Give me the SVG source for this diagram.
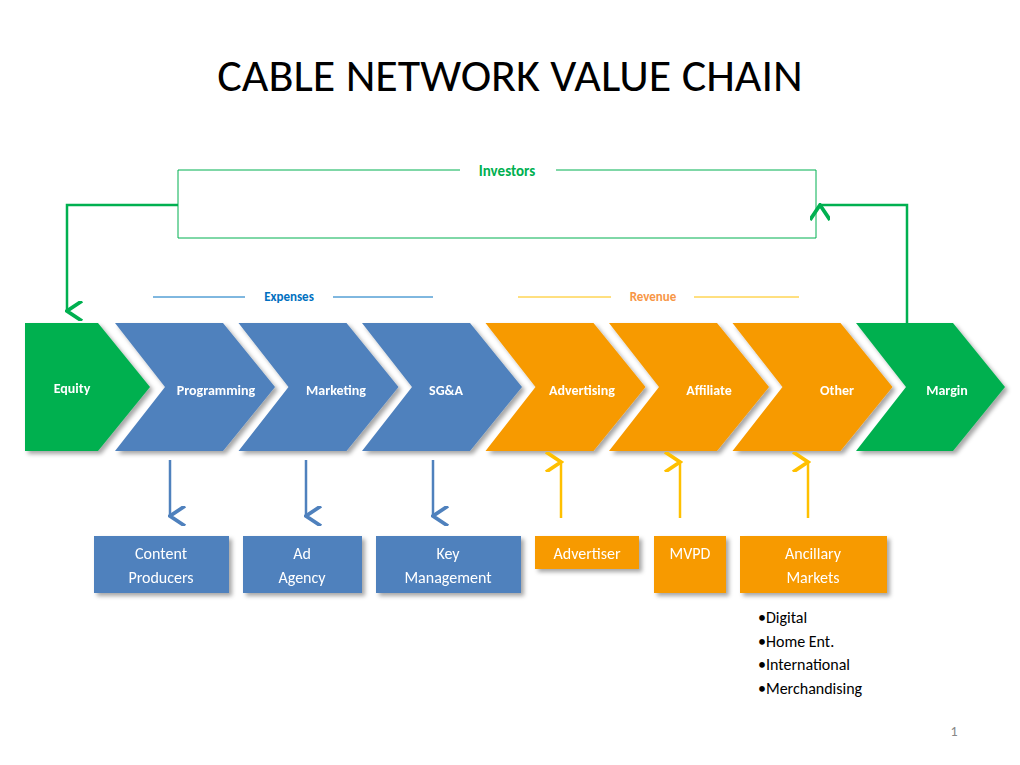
<svg xmlns="http://www.w3.org/2000/svg" width="1020" height="765" viewBox="0 0 1020 765">
<style>
text{font-family:Calibri,Carlito,"Liberation Sans",Arial,sans-serif}
.cl{font-size:14px;font-weight:bold;fill:#fff;text-anchor:middle}
.bx{font-size:16px;fill:#fff;text-anchor:middle}
.bl{fill:#4f81bd}.or{fill:#f79a00}.gr{fill:#00b050}
</style>
<defs>
<filter id="sh" x="-10%" y="-10%" width="130%" height="130%"><feDropShadow dx="3" dy="3" stdDeviation="2" flood-color="#000" flood-opacity="0.35"/></filter>
<marker id="ab" markerWidth="8" markerHeight="8" refX="4" refY="7" orient="auto-start-reverse" viewBox="0 0 8 8"><path d="M0,1 L4,7 L8,1" fill="none" stroke="#4f81bd" stroke-width="1.5"/></marker>
<marker id="ao" markerWidth="8" markerHeight="8" refX="4" refY="7" orient="auto-start-reverse" viewBox="0 0 8 8"><path d="M0,1 L4,7 L8,1" fill="none" stroke="#ffc000" stroke-width="1.5"/></marker>
<marker id="ag" markerWidth="8" markerHeight="8" refX="4" refY="7" orient="auto-start-reverse" viewBox="0 0 8 8"><path d="M0,1 L4,7 L8,1" fill="none" stroke="#00b050" stroke-width="1.5"/></marker>
</defs>
<rect width="1020" height="765" fill="#fff"/>
<text x="510" y="91" font-size="46" text-anchor="middle" fill="#000">CABLE NETWORK VALUE CHAIN</text>
<g id="investors">
<path d="M460,170 H178 V238 H816 V170 H556" fill="none" stroke="#00b050" stroke-width="1"/>
<text x="507" y="176" font-size="15" font-weight="bold" fill="#00b050" text-anchor="middle">Investors</text>
</g>
<g id="expenses"><line x1="153" y1="297" x2="245" y2="297" stroke="#0070c0"/><line x1="333" y1="297" x2="433" y2="297" stroke="#0070c0"/><text x="289" y="301" font-size="13" font-weight="bold" fill="#0070c0" text-anchor="middle">Expenses</text></g>
<g id="revenue"><line x1="518" y1="297" x2="611" y2="297" stroke="#ffc000"/><line x1="694" y1="297" x2="799" y2="297" stroke="#ffc000"/><text x="653" y="301" font-size="13" font-weight="bold" fill="#f79646" text-anchor="middle">Revenue</text></g>
<g filter="url(#sh)">
<g id="equity"><polygon class="gr" points="25,323 98,323 150,387 98,451 25,451"/><text class="cl" x="72" y="393">Equity</text></g>
<g id="programming"><polygon class="bl" points="115,323 223,323 275,387 223,451 115,451 165,387"/><text class="cl" x="216" y="395">Programming</text></g>
<g id="marketing"><polygon class="bl" points="238.5,323 346.5,323 398.5,387 346.5,451 238.5,451 288.5,387"/><text class="cl" x="336" y="395">Marketing</text></g>
<g id="sga"><polygon class="bl" points="362,323 470,323 522,387 470,451 362,451 412,387"/><text class="cl" x="446" y="395">SG&amp;A</text></g>
<g id="advertising"><polygon class="or" points="485.5,323 593.5,323 645.5,387 593.5,451 485.5,451 535.5,387"/><text class="cl" x="582" y="395">Advertising</text></g>
<g id="affiliate"><polygon class="or" points="609,323 717,323 769,387 717,451 609,451 659,387"/><text class="cl" x="709" y="395">Affiliate</text></g>
<g id="other"><polygon class="or" points="732.5,323 840.5,323 892.5,387 840.5,451 732.5,451 782.5,387"/><text class="cl" x="837" y="395">Other</text></g>
<g id="margin"><polygon class="gr" points="856,323 953,323 1005,387 953,451 856,451 906,387"/><text class="cl" x="947" y="395">Margin</text></g>
</g>
<g filter="url(#sh)">
<g id="content"><rect class="bl" x="94" y="536" width="135" height="57"/><text class="bx" x="161" y="559">Content</text><text class="bx" x="161" y="583">Producers</text></g>
<g id="agency"><rect class="bl" x="243" y="536" width="119" height="57"/><text class="bx" x="302" y="559">Ad</text><text class="bx" x="302" y="583">Agency</text></g>
<g id="keymgmt"><rect class="bl" x="376" y="536" width="145" height="57"/><text class="bx" x="448" y="559">Key</text><text class="bx" x="448" y="583">Management</text></g>
<g id="advertiser"><rect class="or" x="535" y="536" width="104" height="33"/><text class="bx" x="587" y="559">Advertiser</text></g>
<g id="mvpd"><rect class="or" x="654" y="536" width="72" height="57"/><text class="bx" x="690" y="559">MVPD</text></g>
<g id="ancillary"><rect class="or" x="740" y="536" width="147" height="57"/><text class="bx" x="813" y="559">Ancillary</text><text class="bx" x="813" y="583">Markets</text></g>
</g>
<g id="bullets" font-size="16" fill="#000">
<text x="758" y="623">•Digital</text><text x="758" y="647">•Home Ent.</text><text x="758" y="670">•International</text><text x="758" y="694">•Merchandising</text>
</g>
<g id="connectors" fill="none" stroke-width="2.5">
<path d="M178,205 H67 V311" stroke="#00b050" marker-end="url(#ag)"/>
<path d="M907,323 V205 H820" stroke="#00b050" marker-end="url(#ag)"/>
<path d="M170,460 V516" stroke="#4f81bd" marker-end="url(#ab)"/>
<path d="M306,460 V516" stroke="#4f81bd" marker-end="url(#ab)"/>
<path d="M433,460 V516" stroke="#4f81bd" marker-end="url(#ab)"/>
<path d="M561,518 V462" stroke="#ffc000" marker-end="url(#ao)"/>
<path d="M680,518 V462" stroke="#ffc000" marker-end="url(#ao)"/>
<path d="M808,518 V462" stroke="#ffc000" marker-end="url(#ao)"/>
</g>
<text x="954" y="736" font-size="14" fill="#888" text-anchor="middle">1</text>
</svg>
